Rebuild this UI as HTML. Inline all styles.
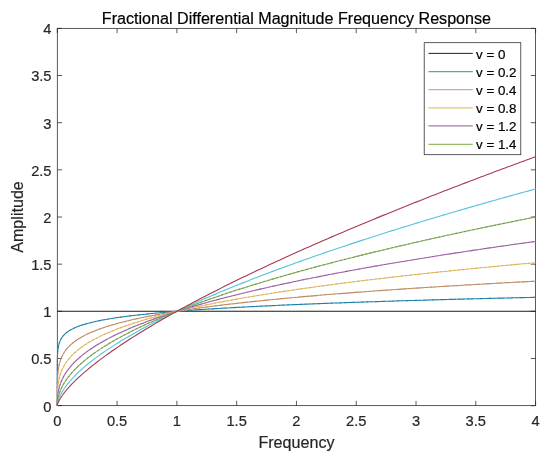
<!DOCTYPE html><html><head><meta charset="utf-8"><title>Fractional Differential Magnitude Frequency Response</title>
<style>html,body{margin:0;padding:0;background:#fff}svg{display:block}text{font-family:"Liberation Sans",Arial,sans-serif;fill:#262626;stroke:#262626;stroke-width:0.2px}</style></head><body>
<svg width="550" height="460" viewBox="0 0 550 460">
<rect width="550" height="460" fill="#fff"/>
<g stroke="#262626" stroke-width="0.75" fill="none">
<rect x="57.3" y="28.35" width="478.3" height="377.29999999999995"/>
<path d="M57.30,405.65v-4.8M57.30,28.35v4.8M57.3,405.65h4.8M535.6,405.65h-4.8M117.09,405.65v-4.8M117.09,28.35v4.8M57.3,358.49h4.8M535.6,358.49h-4.8M176.88,405.65v-4.8M176.88,28.35v4.8M57.3,311.32h4.8M535.6,311.32h-4.8M236.66,405.65v-4.8M236.66,28.35v4.8M57.3,264.16h4.8M535.6,264.16h-4.8M296.45,405.65v-4.8M296.45,28.35v4.8M57.3,217.00h4.8M535.6,217.00h-4.8M356.24,405.65v-4.8M356.24,28.35v4.8M57.3,169.84h4.8M535.6,169.84h-4.8M416.03,405.65v-4.8M416.03,28.35v4.8M57.3,122.68h4.8M535.6,122.68h-4.8M475.81,405.65v-4.8M475.81,28.35v4.8M57.3,75.51h4.8M535.6,75.51h-4.8M535.60,405.65v-4.8M535.60,28.35v4.8M57.3,28.35h4.8M535.6,28.35h-4.8"/>
</g>
<g fill="none" stroke-width="1.1" stroke-linejoin="round">
<path d="M57.30,311.32L535.60,311.32" stroke="#1a1a1a"/>
<path d="M57.30,405.65L57.30,389.24L57.30,385.45L57.30,382.84L57.30,380.78L57.30,379.06L57.30,377.56L57.30,376.23L57.30,375.03L57.30,373.93L57.30,372.91L57.30,371.96L57.31,371.07L57.31,370.23L57.31,369.43L57.31,368.68L57.31,367.95L57.31,367.26L57.32,366.60L57.32,365.96L57.32,365.34L57.33,364.75L57.33,364.17L57.34,363.62L57.34,363.08L57.35,362.55L57.35,362.04L57.36,361.55L57.37,361.06L57.37,360.59L57.38,360.13L57.39,359.68L57.40,359.24L57.41,358.81L57.42,358.39L57.43,357.97L57.44,357.57L57.45,357.17L57.47,356.78L57.48,356.40L57.49,356.03L57.51,355.66L57.52,355.29L57.54,354.94L57.56,354.59L57.58,354.24L57.60,353.90L57.62,353.57L57.64,353.24L57.66,352.91L57.68,352.59L57.70,352.27L57.73,351.96L57.75,351.65L57.78,351.35L57.80,351.05L57.83,350.76L57.86,350.46L57.89,350.17L57.92,349.89L57.96,349.61L57.99,349.33L58.02,349.05L58.06,348.78L58.10,348.51L58.13,348.25L58.17,347.98L58.21,347.72L58.25,347.46L58.30,347.21L58.34,346.95L58.39,346.70L58.43,346.46L58.48,346.21L58.53,345.97L58.58,345.73L58.63,345.49L58.69,345.25L58.74,345.02L58.80,344.79L58.85,344.56L58.91,344.33L58.97,344.10L59.04,343.88L59.10,343.65L59.16,343.43L59.23,343.22L59.30,343.00L59.37,342.78L59.44,342.57L59.51,342.36L59.59,342.15L59.66,341.94L59.74,341.73L59.82,341.53L59.90,341.32L59.98,341.12L60.07,340.92L60.16,340.72L60.24,340.52L60.33,340.33L60.43,340.13L60.52,339.94L60.62,339.74L60.71,339.55L60.81,339.36L60.91,339.17L61.02,338.99L61.12,338.80L61.23,338.61L61.34,338.43L61.45,338.25L61.56,338.07L61.68,337.89L61.80,337.71L61.92,337.53L62.04,337.35L62.16,337.18L62.29,337.00L62.41,336.83L62.54,336.65L62.68,336.48L62.81,336.31L62.95,336.14L63.09,335.97L63.23,335.80L63.37,335.64L63.52,335.47L63.66,335.30L63.81,335.14L63.97,334.98L64.12,334.81L64.28,334.65L64.44,334.49L64.60,334.33L64.77,334.17L64.93,334.01L65.10,333.86L65.28,333.70L65.45,333.54L65.63,333.39L65.81,333.23L65.99,333.08L66.17,332.93L66.36,332.77L66.55,332.62L66.74,332.47L66.94,332.32L67.14,332.17L67.34,332.02L67.54,331.88L67.75,331.73L67.96,331.58L68.17,331.44L68.38,331.29L68.60,331.15L68.82,331.00L69.04,330.86L69.27,330.72L69.50,330.58L69.73,330.43L69.96,330.29L70.20,330.15L70.44,330.01L70.69,329.87L70.93,329.74L71.18,329.60L71.43,329.46L71.69,329.33L71.95,329.19L72.21,329.05L72.47,328.92L72.74,328.78L73.01,328.65L73.29,328.52L73.56,328.38L73.84,328.25L74.13,328.12L74.41,327.99L74.70,327.86L75.00,327.73L75.29,327.60L75.59,327.47L75.90,327.34L76.20,327.21L76.51,327.09L76.83,326.96L77.14,326.83L77.46,326.71L77.79,326.58L78.11,326.45L78.45,326.33L78.78,326.21L79.12,326.08L79.46,325.96L79.80,325.84L80.15,325.71L80.50,325.59L80.86,325.47L81.22,325.35L84.26,324.38L87.31,323.50L90.36,322.70L93.41,321.97L96.46,321.29L99.51,320.65L102.56,320.06L105.61,319.50L108.66,318.97L111.71,318.47L114.76,317.99L117.81,317.54L120.86,317.10L123.91,316.69L126.96,316.29L130.01,315.90L133.06,315.53L136.11,315.18L139.16,314.83L142.21,314.50L145.26,314.18L148.31,313.87L151.35,313.56L154.40,313.27L157.45,312.98L160.50,312.70L163.55,312.43L166.60,312.17L169.65,311.91L172.70,311.66L175.75,311.41L178.80,311.17L181.85,310.94L184.90,310.71L187.95,310.49L191.00,310.27L194.05,310.05L197.10,309.84L200.15,309.63L203.20,309.43L206.25,309.23L209.30,309.03L212.35,308.84L215.40,308.65L218.45,308.47L221.49,308.29L224.54,308.11L227.59,307.93L230.64,307.76L233.69,307.59L236.74,307.42L239.79,307.25L242.84,307.09L245.89,306.93L248.94,306.77L251.99,306.61L255.04,306.46L258.09,306.31L261.14,306.16L264.19,306.01L267.24,305.86L270.29,305.72L273.34,305.58L276.39,305.44L279.44,305.30L282.49,305.16L285.54,305.03L288.59,304.89L291.63,304.76L294.68,304.63L297.73,304.50L300.78,304.37L303.83,304.25L306.88,304.12L309.93,304.00L312.98,303.88L316.03,303.76L319.08,303.64L322.13,303.52L325.18,303.40L328.23,303.29L331.28,303.17L334.33,303.06L337.38,302.95L340.43,302.83L343.48,302.72L346.53,302.61L349.58,302.51L352.63,302.40L355.68,302.29L358.73,302.19L361.77,302.08L364.82,301.98L367.87,301.88L370.92,301.78L373.97,301.68L377.02,301.58L380.07,301.48L383.12,301.38L386.17,301.28L389.22,301.19L392.27,301.09L395.32,301.00L398.37,300.90L401.42,300.81L404.47,300.72L407.52,300.62L410.57,300.53L413.62,300.44L416.67,300.35L419.72,300.26L422.77,300.18L425.82,300.09L428.87,300.00L431.91,299.91L434.96,299.83L438.01,299.74L441.06,299.66L444.11,299.58L447.16,299.49L450.21,299.41L453.26,299.33L456.31,299.25L459.36,299.16L462.41,299.08L465.46,299.00L468.51,298.92L471.56,298.85L474.61,298.77L477.66,298.69L480.71,298.61L483.76,298.53L486.81,298.46L489.86,298.38L492.91,298.31L495.96,298.23L499.01,298.16L502.05,298.08L505.10,298.01L508.15,297.94L511.20,297.86L514.25,297.79L517.30,297.72L520.35,297.65L523.40,297.58L526.45,297.51L529.50,297.44L532.55,297.37L535.60,297.30" stroke="#2388ad"/>
<path d="M57.30,405.65L57.30,389.24L57.30,385.45L57.30,382.84L57.30,380.78L57.30,379.06L57.30,377.56L57.30,376.23L57.30,375.03L57.30,373.93L57.30,372.91L57.30,371.96L57.31,371.07L57.31,370.23L57.31,369.43L57.31,368.68L57.31,367.95L57.31,367.26L57.32,366.60L57.32,365.96L57.32,365.34L57.33,364.75L57.33,364.17L57.34,363.62L57.34,363.08L57.35,362.55L57.35,362.04L57.36,361.55L57.37,361.06L57.37,360.59L57.38,360.13L57.39,359.68L57.40,359.24L57.41,358.81L57.42,358.39L57.43,357.97L57.44,357.57L57.45,357.17L57.47,356.78L57.48,356.40L57.49,356.03L57.51,355.66L57.52,355.29L57.54,354.94L57.56,354.59L57.58,354.24L57.60,353.90L57.62,353.57L57.64,353.24L57.66,352.91L57.68,352.59L57.70,352.27L57.73,351.96L57.75,351.65L57.78,351.35L57.80,351.05L57.83,350.76L57.86,350.46L57.89,350.17L57.92,349.89L57.96,349.61L57.99,349.33L58.02,349.05L58.06,348.78L58.10,348.51L58.13,348.25L58.17,347.98L58.21,347.72L58.25,347.46L58.30,347.21L58.34,346.95L58.39,346.70L58.43,346.46L58.48,346.21L58.53,345.97L58.58,345.73L58.63,345.49L58.69,345.25L58.74,345.02L58.80,344.79L58.85,344.56L58.91,344.33L58.97,344.10L59.04,343.88L59.10,343.65L59.16,343.43L59.23,343.22L59.30,343.00L59.37,342.78L59.44,342.57L59.51,342.36L59.59,342.15L59.66,341.94L59.74,341.73L59.82,341.53L59.90,341.32L59.98,341.12L60.07,340.92L60.16,340.72L60.24,340.52L60.33,340.33L60.43,340.13L60.52,339.94L60.62,339.74L60.71,339.55L60.81,339.36L60.91,339.17L61.02,338.99L61.12,338.80L61.23,338.61L61.34,338.43L61.45,338.25L61.56,338.07L61.68,337.89L61.80,337.71L61.92,337.53L62.04,337.35L62.16,337.18L62.29,337.00L62.41,336.83L62.54,336.65L62.68,336.48L62.81,336.31L62.95,336.14L63.09,335.97L63.23,335.80L63.37,335.64L63.52,335.47L63.66,335.30L63.81,335.14L63.97,334.98L64.12,334.81L64.28,334.65L64.44,334.49L64.60,334.33L64.77,334.17L64.93,334.01L65.10,333.86L65.28,333.70L65.45,333.54L65.63,333.39L65.81,333.23L65.99,333.08L66.17,332.93L66.36,332.77L66.55,332.62L66.74,332.47L66.94,332.32L67.14,332.17L67.34,332.02L67.54,331.88L67.75,331.73L67.96,331.58L68.17,331.44L68.38,331.29L68.60,331.15L68.82,331.00L69.04,330.86L69.27,330.72L69.50,330.58L69.73,330.43L69.96,330.29L70.20,330.15L70.44,330.01L70.69,329.87L70.93,329.74L71.18,329.60L71.43,329.46L71.69,329.33L71.95,329.19L72.21,329.05L72.47,328.92L72.74,328.78L73.01,328.65L73.29,328.52L73.56,328.38L73.84,328.25L74.13,328.12L74.41,327.99L74.70,327.86L75.00,327.73L75.29,327.60L75.59,327.47L75.90,327.34L76.20,327.21L76.51,327.09L76.83,326.96L77.14,326.83L77.46,326.71L77.79,326.58L78.11,326.45L78.45,326.33L78.78,326.21L79.12,326.08L79.46,325.96L79.80,325.84L80.15,325.71L80.50,325.59L80.86,325.47L81.22,325.35L84.26,324.38L87.31,323.50L90.36,322.70L93.41,321.97L96.46,321.29L99.51,320.65L102.56,320.06L105.61,319.50L108.66,318.97L111.71,318.47L114.76,317.99L117.81,317.54L120.86,317.10L123.91,316.69L126.96,316.29L130.01,315.90L133.06,315.53L136.11,315.18L139.16,314.83L142.21,314.50L145.26,314.18L148.31,313.87L151.35,313.56L154.40,313.27L157.45,312.98L160.50,312.70L163.55,312.43L166.60,312.17L169.65,311.91L172.70,311.66L175.75,311.41L178.80,311.17L181.85,310.94L184.90,310.71L187.95,310.49L191.00,310.27L194.05,310.05L197.10,309.84L200.15,309.63L203.20,309.43L206.25,309.23L209.30,309.03L212.35,308.84L215.40,308.65L218.45,308.47L221.49,308.29L224.54,308.11L227.59,307.93L230.64,307.76L233.69,307.59L236.74,307.42L239.79,307.25L242.84,307.09L245.89,306.93L248.94,306.77L251.99,306.61L255.04,306.46L258.09,306.31L261.14,306.16L264.19,306.01L267.24,305.86L270.29,305.72L273.34,305.58L276.39,305.44L279.44,305.30L282.49,305.16L285.54,305.03L288.59,304.89L291.63,304.76L294.68,304.63L297.73,304.50L300.78,304.37L303.83,304.25L306.88,304.12L309.93,304.00L312.98,303.88L316.03,303.76L319.08,303.64L322.13,303.52L325.18,303.40L328.23,303.29L331.28,303.17L334.33,303.06L337.38,302.95L340.43,302.83L343.48,302.72L346.53,302.61L349.58,302.51L352.63,302.40L355.68,302.29L358.73,302.19L361.77,302.08L364.82,301.98L367.87,301.88L370.92,301.78L373.97,301.68L377.02,301.58L380.07,301.48L383.12,301.38L386.17,301.28L389.22,301.19L392.27,301.09L395.32,301.00L398.37,300.90L401.42,300.81L404.47,300.72L407.52,300.62L410.57,300.53L413.62,300.44L416.67,300.35L419.72,300.26L422.77,300.18L425.82,300.09L428.87,300.00L431.91,299.91L434.96,299.83L438.01,299.74L441.06,299.66L444.11,299.58L447.16,299.49L450.21,299.41L453.26,299.33L456.31,299.25L459.36,299.16L462.41,299.08L465.46,299.00L468.51,298.92L471.56,298.85L474.61,298.77L477.66,298.69L480.71,298.61L483.76,298.53L486.81,298.46L489.86,298.38L492.91,298.31L495.96,298.23L499.01,298.16L502.05,298.08L505.10,298.01L508.15,297.94L511.20,297.86L514.25,297.79L517.30,297.72L520.35,297.65L523.40,297.58L526.45,297.51L529.50,297.44L532.55,297.37L535.60,297.30" stroke="#0a5c9c" stroke-opacity="0.35" stroke-dasharray="2 2.4"/>
<path d="M57.30,405.65L57.30,402.80L57.30,401.32L57.30,400.13L57.30,399.09L57.30,398.15L57.30,397.29L57.30,396.48L57.30,395.71L57.30,394.98L57.30,394.29L57.30,393.62L57.31,392.97L57.31,392.35L57.31,391.74L57.31,391.16L57.31,390.58L57.31,390.03L57.32,389.48L57.32,388.95L57.32,388.43L57.33,387.91L57.33,387.41L57.34,386.92L57.34,386.43L57.35,385.96L57.35,385.49L57.36,385.03L57.37,384.57L57.37,384.12L57.38,383.68L57.39,383.25L57.40,382.81L57.41,382.39L57.42,381.97L57.43,381.55L57.44,381.14L57.45,380.74L57.47,380.33L57.48,379.94L57.49,379.54L57.51,379.15L57.52,378.77L57.54,378.39L57.56,378.01L57.58,377.63L57.60,377.26L57.62,376.89L57.64,376.53L57.66,376.16L57.68,375.80L57.70,375.45L57.73,375.09L57.75,374.74L57.78,374.39L57.80,374.05L57.83,373.70L57.86,373.36L57.89,373.02L57.92,372.69L57.96,372.35L57.99,372.02L58.02,371.69L58.06,371.36L58.10,371.04L58.13,370.71L58.17,370.39L58.21,370.07L58.25,369.76L58.30,369.44L58.34,369.13L58.39,368.81L58.43,368.50L58.48,368.19L58.53,367.89L58.58,367.58L58.63,367.28L58.69,366.98L58.74,366.68L58.80,366.38L58.85,366.08L58.91,365.78L58.97,365.49L59.04,365.20L59.10,364.90L59.16,364.61L59.23,364.32L59.30,364.04L59.37,363.75L59.44,363.47L59.51,363.18L59.59,362.90L59.66,362.62L59.74,362.34L59.82,362.06L59.90,361.78L59.98,361.50L60.07,361.23L60.16,360.96L60.24,360.68L60.33,360.41L60.43,360.14L60.52,359.87L60.62,359.60L60.71,359.33L60.81,359.07L60.91,358.80L61.02,358.54L61.12,358.27L61.23,358.01L61.34,357.75L61.45,357.49L61.56,357.23L61.68,356.97L61.80,356.71L61.92,356.45L62.04,356.20L62.16,355.94L62.29,355.69L62.41,355.43L62.54,355.18L62.68,354.93L62.81,354.68L62.95,354.43L63.09,354.18L63.23,353.93L63.37,353.68L63.52,353.43L63.66,353.19L63.81,352.94L63.97,352.70L64.12,352.45L64.28,352.21L64.44,351.97L64.60,351.73L64.77,351.48L64.93,351.24L65.10,351.00L65.28,350.77L65.45,350.53L65.63,350.29L65.81,350.05L65.99,349.82L66.17,349.58L66.36,349.35L66.55,349.11L66.74,348.88L66.94,348.65L67.14,348.41L67.34,348.18L67.54,347.95L67.75,347.72L67.96,347.49L68.17,347.26L68.38,347.03L68.60,346.80L68.82,346.58L69.04,346.35L69.27,346.12L69.50,345.90L69.73,345.67L69.96,345.45L70.20,345.22L70.44,345.00L70.69,344.78L70.93,344.55L71.18,344.33L71.43,344.11L71.69,343.89L71.95,343.67L72.21,343.45L72.47,343.23L72.74,343.01L73.01,342.79L73.29,342.58L73.56,342.36L73.84,342.14L74.13,341.93L74.41,341.71L74.70,341.49L75.00,341.28L75.29,341.07L75.59,340.85L75.90,340.64L76.20,340.43L76.51,340.21L76.83,340.00L77.14,339.79L77.46,339.58L77.79,339.37L78.11,339.16L78.45,338.95L78.78,338.74L79.12,338.53L79.46,338.32L79.80,338.11L80.15,337.91L80.50,337.70L80.86,337.49L81.22,337.29L84.26,335.62L87.31,334.11L90.36,332.71L93.41,331.41L96.46,330.20L99.51,329.06L102.56,327.98L105.61,326.96L108.66,325.99L111.71,325.07L114.76,324.18L117.81,323.34L120.86,322.52L123.91,321.74L126.96,320.99L130.01,320.26L133.06,319.55L136.11,318.87L139.16,318.21L142.21,317.57L145.26,316.94L148.31,316.34L151.35,315.75L154.40,315.17L157.45,314.61L160.50,314.06L163.55,313.53L166.60,313.00L169.65,312.49L172.70,311.99L175.75,311.50L178.80,311.02L181.85,310.55L184.90,310.09L187.95,309.64L191.00,309.20L194.05,308.76L197.10,308.33L200.15,307.91L203.20,307.50L206.25,307.09L209.30,306.69L212.35,306.29L215.40,305.91L218.45,305.53L221.49,305.15L224.54,304.78L227.59,304.41L230.64,304.05L233.69,303.70L236.74,303.35L239.79,303.00L242.84,302.66L245.89,302.33L248.94,301.99L251.99,301.67L255.04,301.34L258.09,301.02L261.14,300.71L264.19,300.39L267.24,300.09L270.29,299.78L273.34,299.48L276.39,299.18L279.44,298.89L282.49,298.59L285.54,298.31L288.59,298.02L291.63,297.74L294.68,297.46L297.73,297.18L300.78,296.91L303.83,296.64L306.88,296.37L309.93,296.10L312.98,295.84L316.03,295.58L319.08,295.32L322.13,295.07L325.18,294.81L328.23,294.56L331.28,294.31L334.33,294.07L337.38,293.82L340.43,293.58L343.48,293.34L346.53,293.10L349.58,292.86L352.63,292.63L355.68,292.40L358.73,292.17L361.77,291.94L364.82,291.71L367.87,291.49L370.92,291.26L373.97,291.04L377.02,290.82L380.07,290.60L383.12,290.39L386.17,290.17L389.22,289.96L392.27,289.75L395.32,289.54L398.37,289.33L401.42,289.12L404.47,288.91L407.52,288.71L410.57,288.51L413.62,288.30L416.67,288.10L419.72,287.91L422.77,287.71L425.82,287.51L428.87,287.32L431.91,287.12L434.96,286.93L438.01,286.74L441.06,286.55L444.11,286.36L447.16,286.17L450.21,285.99L453.26,285.80L456.31,285.62L459.36,285.44L462.41,285.25L465.46,285.07L468.51,284.89L471.56,284.71L474.61,284.54L477.66,284.36L480.71,284.19L483.76,284.01L486.81,283.84L489.86,283.66L492.91,283.49L495.96,283.32L499.01,283.15L502.05,282.98L505.10,282.82L508.15,282.65L511.20,282.48L514.25,282.32L517.30,282.15L520.35,281.99L523.40,281.83L526.45,281.67L529.50,281.51L532.55,281.35L535.60,281.19" stroke="#cc8563"/>
<path d="M57.30,405.65L57.30,402.80L57.30,401.32L57.30,400.13L57.30,399.09L57.30,398.15L57.30,397.29L57.30,396.48L57.30,395.71L57.30,394.98L57.30,394.29L57.30,393.62L57.31,392.97L57.31,392.35L57.31,391.74L57.31,391.16L57.31,390.58L57.31,390.03L57.32,389.48L57.32,388.95L57.32,388.43L57.33,387.91L57.33,387.41L57.34,386.92L57.34,386.43L57.35,385.96L57.35,385.49L57.36,385.03L57.37,384.57L57.37,384.12L57.38,383.68L57.39,383.25L57.40,382.81L57.41,382.39L57.42,381.97L57.43,381.55L57.44,381.14L57.45,380.74L57.47,380.33L57.48,379.94L57.49,379.54L57.51,379.15L57.52,378.77L57.54,378.39L57.56,378.01L57.58,377.63L57.60,377.26L57.62,376.89L57.64,376.53L57.66,376.16L57.68,375.80L57.70,375.45L57.73,375.09L57.75,374.74L57.78,374.39L57.80,374.05L57.83,373.70L57.86,373.36L57.89,373.02L57.92,372.69L57.96,372.35L57.99,372.02L58.02,371.69L58.06,371.36L58.10,371.04L58.13,370.71L58.17,370.39L58.21,370.07L58.25,369.76L58.30,369.44L58.34,369.13L58.39,368.81L58.43,368.50L58.48,368.19L58.53,367.89L58.58,367.58L58.63,367.28L58.69,366.98L58.74,366.68L58.80,366.38L58.85,366.08L58.91,365.78L58.97,365.49L59.04,365.20L59.10,364.90L59.16,364.61L59.23,364.32L59.30,364.04L59.37,363.75L59.44,363.47L59.51,363.18L59.59,362.90L59.66,362.62L59.74,362.34L59.82,362.06L59.90,361.78L59.98,361.50L60.07,361.23L60.16,360.96L60.24,360.68L60.33,360.41L60.43,360.14L60.52,359.87L60.62,359.60L60.71,359.33L60.81,359.07L60.91,358.80L61.02,358.54L61.12,358.27L61.23,358.01L61.34,357.75L61.45,357.49L61.56,357.23L61.68,356.97L61.80,356.71L61.92,356.45L62.04,356.20L62.16,355.94L62.29,355.69L62.41,355.43L62.54,355.18L62.68,354.93L62.81,354.68L62.95,354.43L63.09,354.18L63.23,353.93L63.37,353.68L63.52,353.43L63.66,353.19L63.81,352.94L63.97,352.70L64.12,352.45L64.28,352.21L64.44,351.97L64.60,351.73L64.77,351.48L64.93,351.24L65.10,351.00L65.28,350.77L65.45,350.53L65.63,350.29L65.81,350.05L65.99,349.82L66.17,349.58L66.36,349.35L66.55,349.11L66.74,348.88L66.94,348.65L67.14,348.41L67.34,348.18L67.54,347.95L67.75,347.72L67.96,347.49L68.17,347.26L68.38,347.03L68.60,346.80L68.82,346.58L69.04,346.35L69.27,346.12L69.50,345.90L69.73,345.67L69.96,345.45L70.20,345.22L70.44,345.00L70.69,344.78L70.93,344.55L71.18,344.33L71.43,344.11L71.69,343.89L71.95,343.67L72.21,343.45L72.47,343.23L72.74,343.01L73.01,342.79L73.29,342.58L73.56,342.36L73.84,342.14L74.13,341.93L74.41,341.71L74.70,341.49L75.00,341.28L75.29,341.07L75.59,340.85L75.90,340.64L76.20,340.43L76.51,340.21L76.83,340.00L77.14,339.79L77.46,339.58L77.79,339.37L78.11,339.16L78.45,338.95L78.78,338.74L79.12,338.53L79.46,338.32L79.80,338.11L80.15,337.91L80.50,337.70L80.86,337.49L81.22,337.29L84.26,335.62L87.31,334.11L90.36,332.71L93.41,331.41L96.46,330.20L99.51,329.06L102.56,327.98L105.61,326.96L108.66,325.99L111.71,325.07L114.76,324.18L117.81,323.34L120.86,322.52L123.91,321.74L126.96,320.99L130.01,320.26L133.06,319.55L136.11,318.87L139.16,318.21L142.21,317.57L145.26,316.94L148.31,316.34L151.35,315.75L154.40,315.17L157.45,314.61L160.50,314.06L163.55,313.53L166.60,313.00L169.65,312.49L172.70,311.99L175.75,311.50L178.80,311.02L181.85,310.55L184.90,310.09L187.95,309.64L191.00,309.20L194.05,308.76L197.10,308.33L200.15,307.91L203.20,307.50L206.25,307.09L209.30,306.69L212.35,306.29L215.40,305.91L218.45,305.53L221.49,305.15L224.54,304.78L227.59,304.41L230.64,304.05L233.69,303.70L236.74,303.35L239.79,303.00L242.84,302.66L245.89,302.33L248.94,301.99L251.99,301.67L255.04,301.34L258.09,301.02L261.14,300.71L264.19,300.39L267.24,300.09L270.29,299.78L273.34,299.48L276.39,299.18L279.44,298.89L282.49,298.59L285.54,298.31L288.59,298.02L291.63,297.74L294.68,297.46L297.73,297.18L300.78,296.91L303.83,296.64L306.88,296.37L309.93,296.10L312.98,295.84L316.03,295.58L319.08,295.32L322.13,295.07L325.18,294.81L328.23,294.56L331.28,294.31L334.33,294.07L337.38,293.82L340.43,293.58L343.48,293.34L346.53,293.10L349.58,292.86L352.63,292.63L355.68,292.40L358.73,292.17L361.77,291.94L364.82,291.71L367.87,291.49L370.92,291.26L373.97,291.04L377.02,290.82L380.07,290.60L383.12,290.39L386.17,290.17L389.22,289.96L392.27,289.75L395.32,289.54L398.37,289.33L401.42,289.12L404.47,288.91L407.52,288.71L410.57,288.51L413.62,288.30L416.67,288.10L419.72,287.91L422.77,287.71L425.82,287.51L428.87,287.32L431.91,287.12L434.96,286.93L438.01,286.74L441.06,286.55L444.11,286.36L447.16,286.17L450.21,285.99L453.26,285.80L456.31,285.62L459.36,285.44L462.41,285.25L465.46,285.07L468.51,284.89L471.56,284.71L474.61,284.54L477.66,284.36L480.71,284.19L483.76,284.01L486.81,283.84L489.86,283.66L492.91,283.49L495.96,283.32L499.01,283.15L502.05,282.98L505.10,282.82L508.15,282.65L511.20,282.48L514.25,282.32L517.30,282.15L520.35,281.99L523.40,281.83L526.45,281.67L529.50,281.51L532.55,281.35L535.60,281.19" stroke="#98a070" stroke-opacity="0.5" stroke-dasharray="2 2.4"/>
<path d="M57.30,405.65L57.30,405.15L57.30,404.72L57.30,404.32L57.30,403.92L57.30,403.54L57.30,403.16L57.30,402.79L57.30,402.42L57.30,402.06L57.30,401.71L57.30,401.35L57.31,401.00L57.31,400.66L57.31,400.31L57.31,399.97L57.31,399.63L57.31,399.29L57.32,398.96L57.32,398.62L57.32,398.29L57.33,397.96L57.33,397.63L57.34,397.30L57.34,396.98L57.35,396.65L57.35,396.33L57.36,396.01L57.37,395.69L57.37,395.37L57.38,395.05L57.39,394.73L57.40,394.41L57.41,394.10L57.42,393.78L57.43,393.47L57.44,393.16L57.45,392.85L57.47,392.53L57.48,392.22L57.49,391.92L57.51,391.61L57.52,391.30L57.54,390.99L57.56,390.69L57.58,390.38L57.60,390.07L57.62,389.77L57.64,389.47L57.66,389.16L57.68,388.86L57.70,388.56L57.73,388.26L57.75,387.96L57.78,387.66L57.80,387.36L57.83,387.06L57.86,386.76L57.89,386.46L57.92,386.16L57.96,385.87L57.99,385.57L58.02,385.27L58.06,384.98L58.10,384.68L58.13,384.39L58.17,384.09L58.21,383.80L58.25,383.51L58.30,383.21L58.34,382.92L58.39,382.63L58.43,382.34L58.48,382.05L58.53,381.76L58.58,381.47L58.63,381.18L58.69,380.89L58.74,380.60L58.80,380.31L58.85,380.02L58.91,379.73L58.97,379.44L59.04,379.16L59.10,378.87L59.16,378.58L59.23,378.30L59.30,378.01L59.37,377.72L59.44,377.44L59.51,377.15L59.59,376.87L59.66,376.58L59.74,376.30L59.82,376.02L59.90,375.73L59.98,375.45L60.07,375.17L60.16,374.88L60.24,374.60L60.33,374.32L60.43,374.04L60.52,373.76L60.62,373.47L60.71,373.19L60.81,372.91L60.91,372.63L61.02,372.35L61.12,372.07L61.23,371.79L61.34,371.51L61.45,371.23L61.56,370.96L61.68,370.68L61.80,370.40L61.92,370.12L62.04,369.84L62.16,369.56L62.29,369.29L62.41,369.01L62.54,368.73L62.68,368.46L62.81,368.18L62.95,367.90L63.09,367.63L63.23,367.35L63.37,367.08L63.52,366.80L63.66,366.52L63.81,366.25L63.97,365.97L64.12,365.70L64.28,365.43L64.44,365.15L64.60,364.88L64.77,364.60L64.93,364.33L65.10,364.06L65.28,363.78L65.45,363.51L65.63,363.24L65.81,362.97L65.99,362.69L66.17,362.42L66.36,362.15L66.55,361.88L66.74,361.61L66.94,361.33L67.14,361.06L67.34,360.79L67.54,360.52L67.75,360.25L67.96,359.98L68.17,359.71L68.38,359.44L68.60,359.17L68.82,358.90L69.04,358.63L69.27,358.36L69.50,358.09L69.73,357.82L69.96,357.55L70.20,357.28L70.44,357.02L70.69,356.75L70.93,356.48L71.18,356.21L71.43,355.94L71.69,355.68L71.95,355.41L72.21,355.14L72.47,354.87L72.74,354.61L73.01,354.34L73.29,354.07L73.56,353.81L73.84,353.54L74.13,353.27L74.41,353.01L74.70,352.74L75.00,352.47L75.29,352.21L75.59,351.94L75.90,351.68L76.20,351.41L76.51,351.15L76.83,350.88L77.14,350.62L77.46,350.35L77.79,350.09L78.11,349.82L78.45,349.56L78.78,349.29L79.12,349.03L79.46,348.77L79.80,348.50L80.15,348.24L80.50,347.97L80.86,347.71L81.22,347.45L84.26,345.31L87.31,343.34L90.36,341.51L93.41,339.79L96.46,338.17L99.51,336.63L102.56,335.17L105.61,333.78L108.66,332.45L111.71,331.17L114.76,329.94L117.81,328.76L120.86,327.62L123.91,326.51L126.96,325.44L130.01,324.40L133.06,323.39L136.11,322.42L139.16,321.46L142.21,320.53L145.26,319.63L148.31,318.74L151.35,317.88L154.40,317.04L157.45,316.21L160.50,315.40L163.55,314.61L166.60,313.83L169.65,313.07L172.70,312.32L175.75,311.59L178.80,310.87L181.85,310.16L184.90,309.47L187.95,308.78L191.00,308.11L194.05,307.45L197.10,306.80L200.15,306.16L203.20,305.52L206.25,304.90L209.30,304.29L212.35,303.68L215.40,303.08L218.45,302.49L221.49,301.91L224.54,301.34L227.59,300.77L230.64,300.21L233.69,299.66L236.74,299.11L239.79,298.57L242.84,298.04L245.89,297.51L248.94,296.99L251.99,296.47L255.04,295.96L258.09,295.46L261.14,294.96L264.19,294.46L267.24,293.97L270.29,293.49L273.34,293.01L276.39,292.54L279.44,292.07L282.49,291.60L285.54,291.14L288.59,290.68L291.63,290.23L294.68,289.78L297.73,289.34L300.78,288.89L303.83,288.46L306.88,288.03L309.93,287.60L312.98,287.17L316.03,286.75L319.08,286.33L322.13,285.91L325.18,285.50L328.23,285.09L331.28,284.69L334.33,284.29L337.38,283.89L340.43,283.49L343.48,283.10L346.53,282.71L349.58,282.32L352.63,281.93L355.68,281.55L358.73,281.17L361.77,280.80L364.82,280.42L367.87,280.05L370.92,279.68L373.97,279.32L377.02,278.95L380.07,278.59L383.12,278.23L386.17,277.88L389.22,277.52L392.27,277.17L395.32,276.82L398.37,276.47L401.42,276.13L404.47,275.78L407.52,275.44L410.57,275.10L413.62,274.77L416.67,274.43L419.72,274.10L422.77,273.77L425.82,273.44L428.87,273.11L431.91,272.79L434.96,272.46L438.01,272.14L441.06,271.82L444.11,271.50L447.16,271.19L450.21,270.87L453.26,270.56L456.31,270.25L459.36,269.94L462.41,269.63L465.46,269.32L468.51,269.02L471.56,268.71L474.61,268.41L477.66,268.11L480.71,267.81L483.76,267.52L486.81,267.22L489.86,266.93L492.91,266.63L495.96,266.34L499.01,266.05L502.05,265.77L505.10,265.48L508.15,265.19L511.20,264.91L514.25,264.62L517.30,264.34L520.35,264.06L523.40,263.78L526.45,263.51L529.50,263.23L532.55,262.95L535.60,262.68" stroke="#e4c45c"/>
<path d="M57.30,405.65L57.30,405.15L57.30,404.72L57.30,404.32L57.30,403.92L57.30,403.54L57.30,403.16L57.30,402.79L57.30,402.42L57.30,402.06L57.30,401.71L57.30,401.35L57.31,401.00L57.31,400.66L57.31,400.31L57.31,399.97L57.31,399.63L57.31,399.29L57.32,398.96L57.32,398.62L57.32,398.29L57.33,397.96L57.33,397.63L57.34,397.30L57.34,396.98L57.35,396.65L57.35,396.33L57.36,396.01L57.37,395.69L57.37,395.37L57.38,395.05L57.39,394.73L57.40,394.41L57.41,394.10L57.42,393.78L57.43,393.47L57.44,393.16L57.45,392.85L57.47,392.53L57.48,392.22L57.49,391.92L57.51,391.61L57.52,391.30L57.54,390.99L57.56,390.69L57.58,390.38L57.60,390.07L57.62,389.77L57.64,389.47L57.66,389.16L57.68,388.86L57.70,388.56L57.73,388.26L57.75,387.96L57.78,387.66L57.80,387.36L57.83,387.06L57.86,386.76L57.89,386.46L57.92,386.16L57.96,385.87L57.99,385.57L58.02,385.27L58.06,384.98L58.10,384.68L58.13,384.39L58.17,384.09L58.21,383.80L58.25,383.51L58.30,383.21L58.34,382.92L58.39,382.63L58.43,382.34L58.48,382.05L58.53,381.76L58.58,381.47L58.63,381.18L58.69,380.89L58.74,380.60L58.80,380.31L58.85,380.02L58.91,379.73L58.97,379.44L59.04,379.16L59.10,378.87L59.16,378.58L59.23,378.30L59.30,378.01L59.37,377.72L59.44,377.44L59.51,377.15L59.59,376.87L59.66,376.58L59.74,376.30L59.82,376.02L59.90,375.73L59.98,375.45L60.07,375.17L60.16,374.88L60.24,374.60L60.33,374.32L60.43,374.04L60.52,373.76L60.62,373.47L60.71,373.19L60.81,372.91L60.91,372.63L61.02,372.35L61.12,372.07L61.23,371.79L61.34,371.51L61.45,371.23L61.56,370.96L61.68,370.68L61.80,370.40L61.92,370.12L62.04,369.84L62.16,369.56L62.29,369.29L62.41,369.01L62.54,368.73L62.68,368.46L62.81,368.18L62.95,367.90L63.09,367.63L63.23,367.35L63.37,367.08L63.52,366.80L63.66,366.52L63.81,366.25L63.97,365.97L64.12,365.70L64.28,365.43L64.44,365.15L64.60,364.88L64.77,364.60L64.93,364.33L65.10,364.06L65.28,363.78L65.45,363.51L65.63,363.24L65.81,362.97L65.99,362.69L66.17,362.42L66.36,362.15L66.55,361.88L66.74,361.61L66.94,361.33L67.14,361.06L67.34,360.79L67.54,360.52L67.75,360.25L67.96,359.98L68.17,359.71L68.38,359.44L68.60,359.17L68.82,358.90L69.04,358.63L69.27,358.36L69.50,358.09L69.73,357.82L69.96,357.55L70.20,357.28L70.44,357.02L70.69,356.75L70.93,356.48L71.18,356.21L71.43,355.94L71.69,355.68L71.95,355.41L72.21,355.14L72.47,354.87L72.74,354.61L73.01,354.34L73.29,354.07L73.56,353.81L73.84,353.54L74.13,353.27L74.41,353.01L74.70,352.74L75.00,352.47L75.29,352.21L75.59,351.94L75.90,351.68L76.20,351.41L76.51,351.15L76.83,350.88L77.14,350.62L77.46,350.35L77.79,350.09L78.11,349.82L78.45,349.56L78.78,349.29L79.12,349.03L79.46,348.77L79.80,348.50L80.15,348.24L80.50,347.97L80.86,347.71L81.22,347.45L84.26,345.31L87.31,343.34L90.36,341.51L93.41,339.79L96.46,338.17L99.51,336.63L102.56,335.17L105.61,333.78L108.66,332.45L111.71,331.17L114.76,329.94L117.81,328.76L120.86,327.62L123.91,326.51L126.96,325.44L130.01,324.40L133.06,323.39L136.11,322.42L139.16,321.46L142.21,320.53L145.26,319.63L148.31,318.74L151.35,317.88L154.40,317.04L157.45,316.21L160.50,315.40L163.55,314.61L166.60,313.83L169.65,313.07L172.70,312.32L175.75,311.59L178.80,310.87L181.85,310.16L184.90,309.47L187.95,308.78L191.00,308.11L194.05,307.45L197.10,306.80L200.15,306.16L203.20,305.52L206.25,304.90L209.30,304.29L212.35,303.68L215.40,303.08L218.45,302.49L221.49,301.91L224.54,301.34L227.59,300.77L230.64,300.21L233.69,299.66L236.74,299.11L239.79,298.57L242.84,298.04L245.89,297.51L248.94,296.99L251.99,296.47L255.04,295.96L258.09,295.46L261.14,294.96L264.19,294.46L267.24,293.97L270.29,293.49L273.34,293.01L276.39,292.54L279.44,292.07L282.49,291.60L285.54,291.14L288.59,290.68L291.63,290.23L294.68,289.78L297.73,289.34L300.78,288.89L303.83,288.46L306.88,288.03L309.93,287.60L312.98,287.17L316.03,286.75L319.08,286.33L322.13,285.91L325.18,285.50L328.23,285.09L331.28,284.69L334.33,284.29L337.38,283.89L340.43,283.49L343.48,283.10L346.53,282.71L349.58,282.32L352.63,281.93L355.68,281.55L358.73,281.17L361.77,280.80L364.82,280.42L367.87,280.05L370.92,279.68L373.97,279.32L377.02,278.95L380.07,278.59L383.12,278.23L386.17,277.88L389.22,277.52L392.27,277.17L395.32,276.82L398.37,276.47L401.42,276.13L404.47,275.78L407.52,275.44L410.57,275.10L413.62,274.77L416.67,274.43L419.72,274.10L422.77,273.77L425.82,273.44L428.87,273.11L431.91,272.79L434.96,272.46L438.01,272.14L441.06,271.82L444.11,271.50L447.16,271.19L450.21,270.87L453.26,270.56L456.31,270.25L459.36,269.94L462.41,269.63L465.46,269.32L468.51,269.02L471.56,268.71L474.61,268.41L477.66,268.11L480.71,267.81L483.76,267.52L486.81,267.22L489.86,266.93L492.91,266.63L495.96,266.34L499.01,266.05L502.05,265.77L505.10,265.48L508.15,265.19L511.20,264.91L514.25,264.62L517.30,264.34L520.35,264.06L523.40,263.78L526.45,263.51L529.50,263.23L532.55,262.95L535.60,262.68" stroke="#c48a7c" stroke-opacity="0.45" stroke-dasharray="2 2.4"/>
<path d="M57.30,405.65L57.30,405.56L57.30,405.45L57.30,405.33L57.30,405.19L57.30,405.05L57.30,404.91L57.30,404.76L57.30,404.60L57.30,404.44L57.30,404.28L57.30,404.12L57.31,403.95L57.31,403.77L57.31,403.60L57.31,403.42L57.31,403.24L57.31,403.06L57.32,402.88L57.32,402.69L57.32,402.50L57.33,402.32L57.33,402.12L57.34,401.93L57.34,401.74L57.35,401.54L57.35,401.34L57.36,401.14L57.37,400.94L57.37,400.74L57.38,400.53L57.39,400.33L57.40,400.12L57.41,399.91L57.42,399.70L57.43,399.49L57.44,399.28L57.45,399.07L57.47,398.86L57.48,398.64L57.49,398.42L57.51,398.21L57.52,397.99L57.54,397.77L57.56,397.55L57.58,397.33L57.60,397.10L57.62,396.88L57.64,396.66L57.66,396.43L57.68,396.21L57.70,395.98L57.73,395.75L57.75,395.52L57.78,395.29L57.80,395.06L57.83,394.83L57.86,394.60L57.89,394.36L57.92,394.13L57.96,393.90L57.99,393.66L58.02,393.42L58.06,393.19L58.10,392.95L58.13,392.71L58.17,392.47L58.21,392.23L58.25,391.99L58.30,391.75L58.34,391.51L58.39,391.26L58.43,391.02L58.48,390.78L58.53,390.53L58.58,390.29L58.63,390.04L58.69,389.79L58.74,389.55L58.80,389.30L58.85,389.05L58.91,388.80L58.97,388.55L59.04,388.30L59.10,388.05L59.16,387.80L59.23,387.54L59.30,387.29L59.37,387.04L59.44,386.78L59.51,386.53L59.59,386.27L59.66,386.02L59.74,385.76L59.82,385.50L59.90,385.25L59.98,384.99L60.07,384.73L60.16,384.47L60.24,384.21L60.33,383.95L60.43,383.69L60.52,383.43L60.62,383.17L60.71,382.91L60.81,382.64L60.91,382.38L61.02,382.12L61.12,381.85L61.23,381.59L61.34,381.32L61.45,381.06L61.56,380.79L61.68,380.52L61.80,380.26L61.92,379.99L62.04,379.72L62.16,379.45L62.29,379.18L62.41,378.92L62.54,378.65L62.68,378.38L62.81,378.10L62.95,377.83L63.09,377.56L63.23,377.29L63.37,377.02L63.52,376.74L63.66,376.47L63.81,376.20L63.97,375.92L64.12,375.65L64.28,375.37L64.44,375.10L64.60,374.82L64.77,374.55L64.93,374.27L65.10,373.99L65.28,373.71L65.45,373.44L65.63,373.16L65.81,372.88L65.99,372.60L66.17,372.32L66.36,372.04L66.55,371.76L66.74,371.48L66.94,371.20L67.14,370.92L67.34,370.64L67.54,370.35L67.75,370.07L67.96,369.79L68.17,369.51L68.38,369.22L68.60,368.94L68.82,368.65L69.04,368.37L69.27,368.08L69.50,367.80L69.73,367.51L69.96,367.23L70.20,366.94L70.44,366.65L70.69,366.36L70.93,366.08L71.18,365.79L71.43,365.50L71.69,365.21L71.95,364.92L72.21,364.63L72.47,364.34L72.74,364.05L73.01,363.76L73.29,363.47L73.56,363.18L73.84,362.89L74.13,362.60L74.41,362.31L74.70,362.01L75.00,361.72L75.29,361.43L75.59,361.14L75.90,360.84L76.20,360.55L76.51,360.25L76.83,359.96L77.14,359.66L77.46,359.37L77.79,359.07L78.11,358.78L78.45,358.48L78.78,358.18L79.12,357.89L79.46,357.59L79.80,357.29L80.15,357.00L80.50,356.70L80.86,356.40L81.22,356.10L84.26,353.66L87.31,351.39L90.36,349.25L93.41,347.22L96.46,345.29L99.51,343.46L102.56,341.70L105.61,340.01L108.66,338.38L111.71,336.81L114.76,335.29L117.81,333.82L120.86,332.39L123.91,331.01L126.96,329.66L130.01,328.35L133.06,327.06L136.11,325.81L139.16,324.59L142.21,323.40L145.26,322.23L148.31,321.08L151.35,319.96L154.40,318.86L157.45,317.78L160.50,316.72L163.55,315.68L166.60,314.65L169.65,313.65L172.70,312.66L175.75,311.68L178.80,310.72L181.85,309.77L184.90,308.84L187.95,307.92L191.00,307.02L194.05,306.12L197.10,305.24L200.15,304.37L203.20,303.51L206.25,302.66L209.30,301.82L212.35,301.00L215.40,300.18L218.45,299.37L221.49,298.57L224.54,297.78L227.59,296.99L230.64,296.22L233.69,295.45L236.74,294.70L239.79,293.95L242.84,293.20L245.89,292.47L248.94,291.74L251.99,291.02L255.04,290.30L258.09,289.59L261.14,288.89L264.19,288.20L267.24,287.51L270.29,286.82L273.34,286.15L276.39,285.47L279.44,284.81L282.49,284.15L285.54,283.49L288.59,282.84L291.63,282.20L294.68,281.56L297.73,280.92L300.78,280.29L303.83,279.66L306.88,279.04L309.93,278.43L312.98,277.81L316.03,277.21L319.08,276.60L322.13,276.00L325.18,275.41L328.23,274.82L331.28,274.23L334.33,273.65L337.38,273.07L340.43,272.49L343.48,271.92L346.53,271.35L349.58,270.79L352.63,270.23L355.68,269.67L358.73,269.12L361.77,268.56L364.82,268.02L367.87,267.47L370.92,266.93L373.97,266.39L377.02,265.86L380.07,265.33L383.12,264.80L386.17,264.27L389.22,263.75L392.27,263.23L395.32,262.71L398.37,262.20L401.42,261.69L404.47,261.18L407.52,260.67L410.57,260.17L413.62,259.67L416.67,259.17L419.72,258.67L422.77,258.18L425.82,257.69L428.87,257.20L431.91,256.71L434.96,256.23L438.01,255.75L441.06,255.27L444.11,254.79L447.16,254.32L450.21,253.84L453.26,253.37L456.31,252.91L459.36,252.44L462.41,251.98L465.46,251.51L468.51,251.05L471.56,250.60L474.61,250.14L477.66,249.69L480.71,249.24L483.76,248.79L486.81,248.34L489.86,247.89L492.91,247.45L495.96,247.01L499.01,246.57L502.05,246.13L505.10,245.69L508.15,245.26L511.20,244.82L514.25,244.39L517.30,243.96L520.35,243.54L523.40,243.11L526.45,242.68L529.50,242.26L532.55,241.84L535.60,241.42" stroke="#8f5298"/>
<path d="M57.30,405.65L57.30,405.56L57.30,405.45L57.30,405.33L57.30,405.19L57.30,405.05L57.30,404.91L57.30,404.76L57.30,404.60L57.30,404.44L57.30,404.28L57.30,404.12L57.31,403.95L57.31,403.77L57.31,403.60L57.31,403.42L57.31,403.24L57.31,403.06L57.32,402.88L57.32,402.69L57.32,402.50L57.33,402.32L57.33,402.12L57.34,401.93L57.34,401.74L57.35,401.54L57.35,401.34L57.36,401.14L57.37,400.94L57.37,400.74L57.38,400.53L57.39,400.33L57.40,400.12L57.41,399.91L57.42,399.70L57.43,399.49L57.44,399.28L57.45,399.07L57.47,398.86L57.48,398.64L57.49,398.42L57.51,398.21L57.52,397.99L57.54,397.77L57.56,397.55L57.58,397.33L57.60,397.10L57.62,396.88L57.64,396.66L57.66,396.43L57.68,396.21L57.70,395.98L57.73,395.75L57.75,395.52L57.78,395.29L57.80,395.06L57.83,394.83L57.86,394.60L57.89,394.36L57.92,394.13L57.96,393.90L57.99,393.66L58.02,393.42L58.06,393.19L58.10,392.95L58.13,392.71L58.17,392.47L58.21,392.23L58.25,391.99L58.30,391.75L58.34,391.51L58.39,391.26L58.43,391.02L58.48,390.78L58.53,390.53L58.58,390.29L58.63,390.04L58.69,389.79L58.74,389.55L58.80,389.30L58.85,389.05L58.91,388.80L58.97,388.55L59.04,388.30L59.10,388.05L59.16,387.80L59.23,387.54L59.30,387.29L59.37,387.04L59.44,386.78L59.51,386.53L59.59,386.27L59.66,386.02L59.74,385.76L59.82,385.50L59.90,385.25L59.98,384.99L60.07,384.73L60.16,384.47L60.24,384.21L60.33,383.95L60.43,383.69L60.52,383.43L60.62,383.17L60.71,382.91L60.81,382.64L60.91,382.38L61.02,382.12L61.12,381.85L61.23,381.59L61.34,381.32L61.45,381.06L61.56,380.79L61.68,380.52L61.80,380.26L61.92,379.99L62.04,379.72L62.16,379.45L62.29,379.18L62.41,378.92L62.54,378.65L62.68,378.38L62.81,378.10L62.95,377.83L63.09,377.56L63.23,377.29L63.37,377.02L63.52,376.74L63.66,376.47L63.81,376.20L63.97,375.92L64.12,375.65L64.28,375.37L64.44,375.10L64.60,374.82L64.77,374.55L64.93,374.27L65.10,373.99L65.28,373.71L65.45,373.44L65.63,373.16L65.81,372.88L65.99,372.60L66.17,372.32L66.36,372.04L66.55,371.76L66.74,371.48L66.94,371.20L67.14,370.92L67.34,370.64L67.54,370.35L67.75,370.07L67.96,369.79L68.17,369.51L68.38,369.22L68.60,368.94L68.82,368.65L69.04,368.37L69.27,368.08L69.50,367.80L69.73,367.51L69.96,367.23L70.20,366.94L70.44,366.65L70.69,366.36L70.93,366.08L71.18,365.79L71.43,365.50L71.69,365.21L71.95,364.92L72.21,364.63L72.47,364.34L72.74,364.05L73.01,363.76L73.29,363.47L73.56,363.18L73.84,362.89L74.13,362.60L74.41,362.31L74.70,362.01L75.00,361.72L75.29,361.43L75.59,361.14L75.90,360.84L76.20,360.55L76.51,360.25L76.83,359.96L77.14,359.66L77.46,359.37L77.79,359.07L78.11,358.78L78.45,358.48L78.78,358.18L79.12,357.89L79.46,357.59L79.80,357.29L80.15,357.00L80.50,356.70L80.86,356.40L81.22,356.10L84.26,353.66L87.31,351.39L90.36,349.25L93.41,347.22L96.46,345.29L99.51,343.46L102.56,341.70L105.61,340.01L108.66,338.38L111.71,336.81L114.76,335.29L117.81,333.82L120.86,332.39L123.91,331.01L126.96,329.66L130.01,328.35L133.06,327.06L136.11,325.81L139.16,324.59L142.21,323.40L145.26,322.23L148.31,321.08L151.35,319.96L154.40,318.86L157.45,317.78L160.50,316.72L163.55,315.68L166.60,314.65L169.65,313.65L172.70,312.66L175.75,311.68L178.80,310.72L181.85,309.77L184.90,308.84L187.95,307.92L191.00,307.02L194.05,306.12L197.10,305.24L200.15,304.37L203.20,303.51L206.25,302.66L209.30,301.82L212.35,301.00L215.40,300.18L218.45,299.37L221.49,298.57L224.54,297.78L227.59,296.99L230.64,296.22L233.69,295.45L236.74,294.70L239.79,293.95L242.84,293.20L245.89,292.47L248.94,291.74L251.99,291.02L255.04,290.30L258.09,289.59L261.14,288.89L264.19,288.20L267.24,287.51L270.29,286.82L273.34,286.15L276.39,285.47L279.44,284.81L282.49,284.15L285.54,283.49L288.59,282.84L291.63,282.20L294.68,281.56L297.73,280.92L300.78,280.29L303.83,279.66L306.88,279.04L309.93,278.43L312.98,277.81L316.03,277.21L319.08,276.60L322.13,276.00L325.18,275.41L328.23,274.82L331.28,274.23L334.33,273.65L337.38,273.07L340.43,272.49L343.48,271.92L346.53,271.35L349.58,270.79L352.63,270.23L355.68,269.67L358.73,269.12L361.77,268.56L364.82,268.02L367.87,267.47L370.92,266.93L373.97,266.39L377.02,265.86L380.07,265.33L383.12,264.80L386.17,264.27L389.22,263.75L392.27,263.23L395.32,262.71L398.37,262.20L401.42,261.69L404.47,261.18L407.52,260.67L410.57,260.17L413.62,259.67L416.67,259.17L419.72,258.67L422.77,258.18L425.82,257.69L428.87,257.20L431.91,256.71L434.96,256.23L438.01,255.75L441.06,255.27L444.11,254.79L447.16,254.32L450.21,253.84L453.26,253.37L456.31,252.91L459.36,252.44L462.41,251.98L465.46,251.51L468.51,251.05L471.56,250.60L474.61,250.14L477.66,249.69L480.71,249.24L483.76,248.79L486.81,248.34L489.86,247.89L492.91,247.45L495.96,247.01L499.01,246.57L502.05,246.13L505.10,245.69L508.15,245.26L511.20,244.82L514.25,244.39L517.30,243.96L520.35,243.54L523.40,243.11L526.45,242.68L529.50,242.26L532.55,241.84L535.60,241.42" stroke="#d4a8d6" stroke-opacity="0.45" stroke-dasharray="2 2.4"/>
<path d="M57.30,405.65L57.30,405.63L57.30,405.61L57.30,405.57L57.30,405.53L57.30,405.48L57.30,405.43L57.30,405.37L57.30,405.31L57.30,405.24L57.30,405.17L57.30,405.10L57.31,405.03L57.31,404.95L57.31,404.86L57.31,404.78L57.31,404.69L57.31,404.60L57.32,404.50L57.32,404.41L57.32,404.31L57.33,404.20L57.33,404.10L57.34,403.99L57.34,403.88L57.35,403.77L57.35,403.66L57.36,403.54L57.37,403.42L57.37,403.30L57.38,403.18L57.39,403.06L57.40,402.93L57.41,402.80L57.42,402.67L57.43,402.54L57.44,402.40L57.45,402.27L57.47,402.13L57.48,401.99L57.49,401.85L57.51,401.71L57.52,401.56L57.54,401.41L57.56,401.26L57.58,401.11L57.60,400.96L57.62,400.81L57.64,400.65L57.66,400.50L57.68,400.34L57.70,400.18L57.73,400.02L57.75,399.85L57.78,399.69L57.80,399.52L57.83,399.35L57.86,399.18L57.89,399.01L57.92,398.84L57.96,398.67L57.99,398.49L58.02,398.31L58.06,398.14L58.10,397.96L58.13,397.78L58.17,397.59L58.21,397.41L58.25,397.22L58.30,397.04L58.34,396.85L58.39,396.66L58.43,396.47L58.48,396.28L58.53,396.08L58.58,395.89L58.63,395.69L58.69,395.50L58.74,395.30L58.80,395.10L58.85,394.90L58.91,394.70L58.97,394.49L59.04,394.29L59.10,394.08L59.16,393.87L59.23,393.67L59.30,393.46L59.37,393.25L59.44,393.03L59.51,392.82L59.59,392.61L59.66,392.39L59.74,392.17L59.82,391.96L59.90,391.74L59.98,391.52L60.07,391.29L60.16,391.07L60.24,390.85L60.33,390.62L60.43,390.40L60.52,390.17L60.62,389.94L60.71,389.71L60.81,389.48L60.91,389.25L61.02,389.02L61.12,388.78L61.23,388.55L61.34,388.31L61.45,388.08L61.56,387.84L61.68,387.60L61.80,387.36L61.92,387.12L62.04,386.88L62.16,386.63L62.29,386.39L62.41,386.14L62.54,385.90L62.68,385.65L62.81,385.40L62.95,385.15L63.09,384.90L63.23,384.65L63.37,384.40L63.52,384.14L63.66,383.89L63.81,383.63L63.97,383.38L64.12,383.12L64.28,382.86L64.44,382.60L64.60,382.34L64.77,382.08L64.93,381.82L65.10,381.55L65.28,381.29L65.45,381.02L65.63,380.76L65.81,380.49L65.99,380.22L66.17,379.95L66.36,379.68L66.55,379.41L66.74,379.14L66.94,378.87L67.14,378.59L67.34,378.32L67.54,378.04L67.75,377.77L67.96,377.49L68.17,377.21L68.38,376.93L68.60,376.65L68.82,376.37L69.04,376.09L69.27,375.81L69.50,375.52L69.73,375.24L69.96,374.95L70.20,374.67L70.44,374.38L70.69,374.09L70.93,373.80L71.18,373.51L71.43,373.22L71.69,372.93L71.95,372.64L72.21,372.34L72.47,372.05L72.74,371.75L73.01,371.46L73.29,371.16L73.56,370.86L73.84,370.56L74.13,370.26L74.41,369.96L74.70,369.66L75.00,369.36L75.29,369.06L75.59,368.75L75.90,368.45L76.20,368.15L76.51,367.84L76.83,367.53L77.14,367.22L77.46,366.92L77.79,366.61L78.11,366.30L78.45,365.98L78.78,365.67L79.12,365.36L79.46,365.05L79.80,364.73L80.15,364.42L80.50,364.10L80.86,363.78L81.22,363.47L84.26,360.86L87.31,358.39L90.36,356.05L93.41,353.81L96.46,351.67L99.51,349.61L102.56,347.62L105.61,345.69L108.66,343.83L111.71,342.02L114.76,340.26L117.81,338.55L120.86,336.88L123.91,335.25L126.96,333.66L130.01,332.10L133.06,330.57L136.11,329.07L139.16,327.61L142.21,326.17L145.26,324.75L148.31,323.36L151.35,321.99L154.40,320.65L157.45,319.32L160.50,318.02L163.55,316.73L166.60,315.47L169.65,314.22L172.70,312.99L175.75,311.77L178.80,310.57L181.85,309.38L184.90,308.21L187.95,307.05L191.00,305.91L194.05,304.78L197.10,303.66L200.15,302.55L203.20,301.46L206.25,300.38L209.30,299.30L212.35,298.24L215.40,297.19L218.45,296.15L221.49,295.12L224.54,294.10L227.59,293.08L230.64,292.08L233.69,291.09L236.74,290.10L239.79,289.12L242.84,288.15L245.89,287.19L248.94,286.24L251.99,285.29L255.04,284.35L258.09,283.42L261.14,282.50L264.19,281.58L267.24,280.67L270.29,279.76L273.34,278.86L276.39,277.97L279.44,277.09L282.49,276.21L285.54,275.33L288.59,274.47L291.63,273.60L294.68,272.75L297.73,271.90L300.78,271.05L303.83,270.21L306.88,269.38L309.93,268.55L312.98,267.72L316.03,266.90L319.08,266.09L322.13,265.27L325.18,264.47L328.23,263.67L331.28,262.87L334.33,262.08L337.38,261.29L340.43,260.51L343.48,259.73L346.53,258.95L349.58,258.18L352.63,257.41L355.68,256.65L358.73,255.89L361.77,255.13L364.82,254.38L367.87,253.63L370.92,252.89L373.97,252.15L377.02,251.41L380.07,250.68L383.12,249.95L386.17,249.22L389.22,248.50L392.27,247.78L395.32,247.06L398.37,246.35L401.42,245.63L404.47,244.93L407.52,244.22L410.57,243.52L413.62,242.82L416.67,242.13L419.72,241.44L422.77,240.75L425.82,240.06L428.87,239.38L431.91,238.70L434.96,238.02L438.01,237.34L441.06,236.67L444.11,236.00L447.16,235.33L450.21,234.67L453.26,234.00L456.31,233.34L459.36,232.69L462.41,232.03L465.46,231.38L468.51,230.73L471.56,230.08L474.61,229.44L477.66,228.80L480.71,228.16L483.76,227.52L486.81,226.88L489.86,226.25L492.91,225.62L495.96,224.99L499.01,224.36L502.05,223.74L505.10,223.11L508.15,222.49L511.20,221.87L514.25,221.26L517.30,220.64L520.35,220.03L523.40,219.42L526.45,218.81L529.50,218.21L532.55,217.60L535.60,217.00" stroke="#85b058"/>
<path d="M57.30,405.65L57.30,405.63L57.30,405.61L57.30,405.57L57.30,405.53L57.30,405.48L57.30,405.43L57.30,405.37L57.30,405.31L57.30,405.24L57.30,405.17L57.30,405.10L57.31,405.03L57.31,404.95L57.31,404.86L57.31,404.78L57.31,404.69L57.31,404.60L57.32,404.50L57.32,404.41L57.32,404.31L57.33,404.20L57.33,404.10L57.34,403.99L57.34,403.88L57.35,403.77L57.35,403.66L57.36,403.54L57.37,403.42L57.37,403.30L57.38,403.18L57.39,403.06L57.40,402.93L57.41,402.80L57.42,402.67L57.43,402.54L57.44,402.40L57.45,402.27L57.47,402.13L57.48,401.99L57.49,401.85L57.51,401.71L57.52,401.56L57.54,401.41L57.56,401.26L57.58,401.11L57.60,400.96L57.62,400.81L57.64,400.65L57.66,400.50L57.68,400.34L57.70,400.18L57.73,400.02L57.75,399.85L57.78,399.69L57.80,399.52L57.83,399.35L57.86,399.18L57.89,399.01L57.92,398.84L57.96,398.67L57.99,398.49L58.02,398.31L58.06,398.14L58.10,397.96L58.13,397.78L58.17,397.59L58.21,397.41L58.25,397.22L58.30,397.04L58.34,396.85L58.39,396.66L58.43,396.47L58.48,396.28L58.53,396.08L58.58,395.89L58.63,395.69L58.69,395.50L58.74,395.30L58.80,395.10L58.85,394.90L58.91,394.70L58.97,394.49L59.04,394.29L59.10,394.08L59.16,393.87L59.23,393.67L59.30,393.46L59.37,393.25L59.44,393.03L59.51,392.82L59.59,392.61L59.66,392.39L59.74,392.17L59.82,391.96L59.90,391.74L59.98,391.52L60.07,391.29L60.16,391.07L60.24,390.85L60.33,390.62L60.43,390.40L60.52,390.17L60.62,389.94L60.71,389.71L60.81,389.48L60.91,389.25L61.02,389.02L61.12,388.78L61.23,388.55L61.34,388.31L61.45,388.08L61.56,387.84L61.68,387.60L61.80,387.36L61.92,387.12L62.04,386.88L62.16,386.63L62.29,386.39L62.41,386.14L62.54,385.90L62.68,385.65L62.81,385.40L62.95,385.15L63.09,384.90L63.23,384.65L63.37,384.40L63.52,384.14L63.66,383.89L63.81,383.63L63.97,383.38L64.12,383.12L64.28,382.86L64.44,382.60L64.60,382.34L64.77,382.08L64.93,381.82L65.10,381.55L65.28,381.29L65.45,381.02L65.63,380.76L65.81,380.49L65.99,380.22L66.17,379.95L66.36,379.68L66.55,379.41L66.74,379.14L66.94,378.87L67.14,378.59L67.34,378.32L67.54,378.04L67.75,377.77L67.96,377.49L68.17,377.21L68.38,376.93L68.60,376.65L68.82,376.37L69.04,376.09L69.27,375.81L69.50,375.52L69.73,375.24L69.96,374.95L70.20,374.67L70.44,374.38L70.69,374.09L70.93,373.80L71.18,373.51L71.43,373.22L71.69,372.93L71.95,372.64L72.21,372.34L72.47,372.05L72.74,371.75L73.01,371.46L73.29,371.16L73.56,370.86L73.84,370.56L74.13,370.26L74.41,369.96L74.70,369.66L75.00,369.36L75.29,369.06L75.59,368.75L75.90,368.45L76.20,368.15L76.51,367.84L76.83,367.53L77.14,367.22L77.46,366.92L77.79,366.61L78.11,366.30L78.45,365.98L78.78,365.67L79.12,365.36L79.46,365.05L79.80,364.73L80.15,364.42L80.50,364.10L80.86,363.78L81.22,363.47L84.26,360.86L87.31,358.39L90.36,356.05L93.41,353.81L96.46,351.67L99.51,349.61L102.56,347.62L105.61,345.69L108.66,343.83L111.71,342.02L114.76,340.26L117.81,338.55L120.86,336.88L123.91,335.25L126.96,333.66L130.01,332.10L133.06,330.57L136.11,329.07L139.16,327.61L142.21,326.17L145.26,324.75L148.31,323.36L151.35,321.99L154.40,320.65L157.45,319.32L160.50,318.02L163.55,316.73L166.60,315.47L169.65,314.22L172.70,312.99L175.75,311.77L178.80,310.57L181.85,309.38L184.90,308.21L187.95,307.05L191.00,305.91L194.05,304.78L197.10,303.66L200.15,302.55L203.20,301.46L206.25,300.38L209.30,299.30L212.35,298.24L215.40,297.19L218.45,296.15L221.49,295.12L224.54,294.10L227.59,293.08L230.64,292.08L233.69,291.09L236.74,290.10L239.79,289.12L242.84,288.15L245.89,287.19L248.94,286.24L251.99,285.29L255.04,284.35L258.09,283.42L261.14,282.50L264.19,281.58L267.24,280.67L270.29,279.76L273.34,278.86L276.39,277.97L279.44,277.09L282.49,276.21L285.54,275.33L288.59,274.47L291.63,273.60L294.68,272.75L297.73,271.90L300.78,271.05L303.83,270.21L306.88,269.38L309.93,268.55L312.98,267.72L316.03,266.90L319.08,266.09L322.13,265.27L325.18,264.47L328.23,263.67L331.28,262.87L334.33,262.08L337.38,261.29L340.43,260.51L343.48,259.73L346.53,258.95L349.58,258.18L352.63,257.41L355.68,256.65L358.73,255.89L361.77,255.13L364.82,254.38L367.87,253.63L370.92,252.89L373.97,252.15L377.02,251.41L380.07,250.68L383.12,249.95L386.17,249.22L389.22,248.50L392.27,247.78L395.32,247.06L398.37,246.35L401.42,245.63L404.47,244.93L407.52,244.22L410.57,243.52L413.62,242.82L416.67,242.13L419.72,241.44L422.77,240.75L425.82,240.06L428.87,239.38L431.91,238.70L434.96,238.02L438.01,237.34L441.06,236.67L444.11,236.00L447.16,235.33L450.21,234.67L453.26,234.00L456.31,233.34L459.36,232.69L462.41,232.03L465.46,231.38L468.51,230.73L471.56,230.08L474.61,229.44L477.66,228.80L480.71,228.16L483.76,227.52L486.81,226.88L489.86,226.25L492.91,225.62L495.96,224.99L499.01,224.36L502.05,223.74L505.10,223.11L508.15,222.49L511.20,221.87L514.25,221.26L517.30,220.64L520.35,220.03L523.40,219.42L526.45,218.81L529.50,218.21L532.55,217.60L535.60,217.00" stroke="#52703a" stroke-opacity="0.45" stroke-dasharray="2 2.4"/>
<path d="M57.30,405.65L57.30,405.65L57.30,405.64L57.30,405.63L57.30,405.62L57.30,405.60L57.30,405.58L57.30,405.56L57.30,405.54L57.30,405.51L57.30,405.49L57.30,405.45L57.31,405.42L57.31,405.39L57.31,405.35L57.31,405.31L57.31,405.27L57.31,405.22L57.32,405.17L57.32,405.13L57.32,405.08L57.33,405.02L57.33,404.97L57.34,404.91L57.34,404.85L57.35,404.79L57.35,404.73L57.36,404.66L57.37,404.60L57.37,404.53L57.38,404.46L57.39,404.39L57.40,404.31L57.41,404.24L57.42,404.16L57.43,404.08L57.44,404.00L57.45,403.91L57.47,403.83L57.48,403.74L57.49,403.65L57.51,403.56L57.52,403.47L57.54,403.37L57.56,403.28L57.58,403.18L57.60,403.08L57.62,402.98L57.64,402.87L57.66,402.77L57.68,402.66L57.70,402.55L57.73,402.44L57.75,402.33L57.78,402.22L57.80,402.10L57.83,401.99L57.86,401.87L57.89,401.75L57.92,401.62L57.96,401.50L57.99,401.38L58.02,401.25L58.06,401.12L58.10,400.99L58.13,400.86L58.17,400.72L58.21,400.59L58.25,400.45L58.30,400.31L58.34,400.17L58.39,400.03L58.43,399.89L58.48,399.74L58.53,399.60L58.58,399.45L58.63,399.30L58.69,399.15L58.74,399.00L58.80,398.84L58.85,398.69L58.91,398.53L58.97,398.37L59.04,398.21L59.10,398.05L59.16,397.88L59.23,397.72L59.30,397.55L59.37,397.38L59.44,397.21L59.51,397.04L59.59,396.87L59.66,396.69L59.74,396.52L59.82,396.34L59.90,396.16L59.98,395.98L60.07,395.80L60.16,395.62L60.24,395.43L60.33,395.24L60.43,395.06L60.52,394.87L60.62,394.67L60.71,394.48L60.81,394.29L60.91,394.09L61.02,393.90L61.12,393.70L61.23,393.50L61.34,393.30L61.45,393.09L61.56,392.89L61.68,392.68L61.80,392.48L61.92,392.27L62.04,392.06L62.16,391.84L62.29,391.63L62.41,391.42L62.54,391.20L62.68,390.98L62.81,390.76L62.95,390.54L63.09,390.32L63.23,390.10L63.37,389.87L63.52,389.65L63.66,389.42L63.81,389.19L63.97,388.96L64.12,388.73L64.28,388.50L64.44,388.26L64.60,388.03L64.77,387.79L64.93,387.55L65.10,387.31L65.28,387.07L65.45,386.82L65.63,386.58L65.81,386.33L65.99,386.09L66.17,385.84L66.36,385.59L66.55,385.34L66.74,385.08L66.94,384.83L67.14,384.57L67.34,384.32L67.54,384.06L67.75,383.80L67.96,383.54L68.17,383.28L68.38,383.01L68.60,382.75L68.82,382.48L69.04,382.21L69.27,381.94L69.50,381.67L69.73,381.40L69.96,381.13L70.20,380.85L70.44,380.57L70.69,380.30L70.93,380.02L71.18,379.74L71.43,379.46L71.69,379.17L71.95,378.89L72.21,378.60L72.47,378.32L72.74,378.03L73.01,377.74L73.29,377.45L73.56,377.15L73.84,376.86L74.13,376.57L74.41,376.27L74.70,375.97L75.00,375.67L75.29,375.37L75.59,375.07L75.90,374.77L76.20,374.46L76.51,374.16L76.83,373.85L77.14,373.54L77.46,373.23L77.79,372.92L78.11,372.61L78.45,372.29L78.78,371.98L79.12,371.66L79.46,371.35L79.80,371.03L80.15,370.71L80.50,370.38L80.86,370.06L81.22,369.74L84.26,367.06L87.31,364.49L90.36,362.03L93.41,359.66L96.46,357.37L99.51,355.15L102.56,352.99L105.61,350.89L108.66,348.84L111.71,346.84L114.76,344.88L117.81,342.97L120.86,341.09L123.91,339.25L126.96,337.44L130.01,335.67L133.06,333.92L136.11,332.20L139.16,330.51L142.21,328.84L145.26,327.20L148.31,325.58L151.35,323.98L154.40,322.40L157.45,320.84L160.50,319.30L163.55,317.78L166.60,316.27L169.65,314.79L172.70,313.31L175.75,311.86L178.80,310.42L181.85,308.99L184.90,307.58L187.95,306.18L191.00,304.79L194.05,303.42L197.10,302.05L200.15,300.70L203.20,299.37L206.25,298.04L209.30,296.72L212.35,295.42L215.40,294.12L218.45,292.83L221.49,291.56L224.54,290.29L227.59,289.03L230.64,287.78L233.69,286.54L236.74,285.31L239.79,284.09L242.84,282.88L245.89,281.67L248.94,280.47L251.99,279.28L255.04,278.09L258.09,276.92L261.14,275.75L264.19,274.59L267.24,273.43L270.29,272.28L273.34,271.14L276.39,270.00L279.44,268.87L282.49,267.75L285.54,266.63L288.59,265.52L291.63,264.41L294.68,263.31L297.73,262.22L300.78,261.13L303.83,260.05L306.88,258.97L309.93,257.90L312.98,256.83L316.03,255.77L319.08,254.71L322.13,253.66L325.18,252.61L328.23,251.57L331.28,250.53L334.33,249.49L337.38,248.47L340.43,247.44L343.48,246.42L346.53,245.40L349.58,244.39L352.63,243.39L355.68,242.38L358.73,241.38L361.77,240.39L364.82,239.40L367.87,238.41L370.92,237.43L373.97,236.45L377.02,235.47L380.07,234.50L383.12,233.53L386.17,232.57L389.22,231.60L392.27,230.65L395.32,229.69L398.37,228.74L401.42,227.79L404.47,226.85L407.52,225.91L410.57,224.97L413.62,224.04L416.67,223.11L419.72,222.18L422.77,221.25L425.82,220.33L428.87,219.41L431.91,218.50L434.96,217.59L438.01,216.68L441.06,215.77L444.11,214.87L447.16,213.96L450.21,213.07L453.26,212.17L456.31,211.28L459.36,210.39L462.41,209.50L465.46,208.62L468.51,207.73L471.56,206.85L474.61,205.98L477.66,205.10L480.71,204.23L483.76,203.36L486.81,202.50L489.86,201.63L492.91,200.77L495.96,199.91L499.01,199.05L502.05,198.20L505.10,197.35L508.15,196.50L511.20,195.65L514.25,194.80L517.30,193.96L520.35,193.12L523.40,192.28L526.45,191.44L529.50,190.61L532.55,189.78L535.60,188.95" stroke="#55c2dc"/>
<path d="M57.30,405.65L57.30,405.65L57.30,405.65L57.30,405.65L57.30,405.64L57.30,405.64L57.30,405.63L57.30,405.62L57.30,405.61L57.30,405.60L57.30,405.59L57.30,405.58L57.31,405.57L57.31,405.55L57.31,405.53L57.31,405.52L57.31,405.50L57.31,405.48L57.32,405.45L57.32,405.43L57.32,405.40L57.33,405.38L57.33,405.35L57.34,405.32L57.34,405.29L57.35,405.26L57.35,405.22L57.36,405.19L57.37,405.15L57.37,405.11L57.38,405.07L57.39,405.03L57.40,404.99L57.41,404.95L57.42,404.90L57.43,404.86L57.44,404.81L57.45,404.76L57.47,404.71L57.48,404.65L57.49,404.60L57.51,404.54L57.52,404.48L57.54,404.43L57.56,404.36L57.58,404.30L57.60,404.24L57.62,404.17L57.64,404.11L57.66,404.04L57.68,403.97L57.70,403.90L57.73,403.82L57.75,403.75L57.78,403.67L57.80,403.60L57.83,403.52L57.86,403.44L57.89,403.35L57.92,403.27L57.96,403.18L57.99,403.10L58.02,403.01L58.06,402.92L58.10,402.83L58.13,402.73L58.17,402.64L58.21,402.54L58.25,402.44L58.30,402.34L58.34,402.24L58.39,402.14L58.43,402.03L58.48,401.93L58.53,401.82L58.58,401.71L58.63,401.60L58.69,401.49L58.74,401.37L58.80,401.26L58.85,401.14L58.91,401.02L58.97,400.90L59.04,400.78L59.10,400.65L59.16,400.53L59.23,400.40L59.30,400.27L59.37,400.14L59.44,400.01L59.51,399.87L59.59,399.74L59.66,399.60L59.74,399.46L59.82,399.32L59.90,399.18L59.98,399.04L60.07,398.89L60.16,398.74L60.24,398.59L60.33,398.44L60.43,398.29L60.52,398.14L60.62,397.98L60.71,397.82L60.81,397.67L60.91,397.50L61.02,397.34L61.12,397.18L61.23,397.01L61.34,396.85L61.45,396.68L61.56,396.51L61.68,396.33L61.80,396.16L61.92,395.98L62.04,395.81L62.16,395.63L62.29,395.45L62.41,395.27L62.54,395.08L62.68,394.90L62.81,394.71L62.95,394.52L63.09,394.33L63.23,394.13L63.37,393.94L63.52,393.74L63.66,393.55L63.81,393.35L63.97,393.15L64.12,392.94L64.28,392.74L64.44,392.53L64.60,392.32L64.77,392.12L64.93,391.90L65.10,391.69L65.28,391.48L65.45,391.26L65.63,391.04L65.81,390.82L65.99,390.60L66.17,390.38L66.36,390.15L66.55,389.92L66.74,389.69L66.94,389.46L67.14,389.23L67.34,389.00L67.54,388.76L67.75,388.53L67.96,388.29L68.17,388.05L68.38,387.80L68.60,387.56L68.82,387.31L69.04,387.07L69.27,386.82L69.50,386.57L69.73,386.31L69.96,386.06L70.20,385.80L70.44,385.54L70.69,385.28L70.93,385.02L71.18,384.76L71.43,384.49L71.69,384.23L71.95,383.96L72.21,383.69L72.47,383.41L72.74,383.14L73.01,382.86L73.29,382.59L73.56,382.31L73.84,382.03L74.13,381.74L74.41,381.46L74.70,381.17L75.00,380.89L75.29,380.60L75.59,380.30L75.90,380.01L76.20,379.72L76.51,379.42L76.83,379.12L77.14,378.82L77.46,378.52L77.79,378.21L78.11,377.91L78.45,377.60L78.78,377.29L79.12,376.98L79.46,376.67L79.80,376.35L80.15,376.04L80.50,375.72L80.86,375.40L81.22,375.08L84.26,372.40L87.31,369.81L90.36,367.29L93.41,364.85L96.46,362.47L99.51,360.14L102.56,357.86L105.61,355.63L108.66,353.44L111.71,351.29L114.76,349.18L117.81,347.10L120.86,345.05L123.91,343.02L126.96,341.03L130.01,339.06L133.06,337.12L136.11,335.20L139.16,333.30L142.21,331.43L145.26,329.57L148.31,327.73L151.35,325.92L154.40,324.11L157.45,322.33L160.50,320.56L163.55,318.81L166.60,317.07L169.65,315.35L172.70,313.64L175.75,311.95L178.80,310.26L181.85,308.59L184.90,306.94L187.95,305.29L191.00,303.66L194.05,302.03L197.10,300.42L200.15,298.82L203.20,297.23L206.25,295.65L209.30,294.08L212.35,292.51L215.40,290.96L218.45,289.42L221.49,287.88L224.54,286.35L227.59,284.84L230.64,283.33L233.69,281.82L236.74,280.33L239.79,278.84L242.84,277.36L245.89,275.89L248.94,274.42L251.99,272.97L255.04,271.51L258.09,270.07L261.14,268.63L264.19,267.20L267.24,265.77L270.29,264.35L273.34,262.94L276.39,261.53L279.44,260.13L282.49,258.74L285.54,257.35L288.59,255.96L291.63,254.58L294.68,253.21L297.73,251.84L300.78,250.48L303.83,249.12L306.88,247.77L309.93,246.42L312.98,245.08L316.03,243.74L319.08,242.41L322.13,241.08L325.18,239.75L328.23,238.43L331.28,237.12L334.33,235.81L337.38,234.50L340.43,233.20L343.48,231.90L346.53,230.61L349.58,229.32L352.63,228.03L355.68,226.75L358.73,225.47L361.77,224.20L364.82,222.93L367.87,221.66L370.92,220.40L373.97,219.14L377.02,217.88L380.07,216.63L383.12,215.38L386.17,214.14L389.22,212.90L392.27,211.66L395.32,210.42L398.37,209.19L401.42,207.96L404.47,206.74L407.52,205.52L410.57,204.30L413.62,203.08L416.67,201.87L419.72,200.66L422.77,199.46L425.82,198.26L428.87,197.06L431.91,195.86L434.96,194.66L438.01,193.47L441.06,192.29L444.11,191.10L447.16,189.92L450.21,188.74L453.26,187.56L456.31,186.39L459.36,185.21L462.41,184.04L465.46,182.88L468.51,181.71L471.56,180.55L474.61,179.39L477.66,178.24L480.71,177.08L483.76,175.93L486.81,174.79L489.86,173.64L492.91,172.50L495.96,171.35L499.01,170.21L502.05,169.08L505.10,167.94L508.15,166.81L511.20,165.68L514.25,164.55L517.30,163.43L520.35,162.31L523.40,161.19L526.45,160.07L529.50,158.95L532.55,157.84L535.60,156.72" stroke="#a83a50"/>
</g>
<g font-size="14.67">
<text x="57.30" y="426.4" text-anchor="middle">0</text>
<text x="51.5" y="411.55" text-anchor="end">0</text>
<text x="117.09" y="426.4" text-anchor="middle">0.5</text>
<text x="51.5" y="364.39" text-anchor="end">0.5</text>
<text x="176.88" y="426.4" text-anchor="middle">1</text>
<text x="51.5" y="317.22" text-anchor="end">1</text>
<text x="236.66" y="426.4" text-anchor="middle">1.5</text>
<text x="51.5" y="270.06" text-anchor="end">1.5</text>
<text x="296.45" y="426.4" text-anchor="middle">2</text>
<text x="51.5" y="222.90" text-anchor="end">2</text>
<text x="356.24" y="426.4" text-anchor="middle">2.5</text>
<text x="51.5" y="175.74" text-anchor="end">2.5</text>
<text x="416.03" y="426.4" text-anchor="middle">3</text>
<text x="51.5" y="128.58" text-anchor="end">3</text>
<text x="475.81" y="426.4" text-anchor="middle">3.5</text>
<text x="51.5" y="81.41" text-anchor="end">3.5</text>
<text x="535.60" y="426.4" text-anchor="middle">4</text>
<text x="51.5" y="34.25" text-anchor="end">4</text>
</g>
<text x="296.45" y="448" font-size="16.13" text-anchor="middle">Frequency</text>
<text transform="translate(23,217.00) rotate(-90)" font-size="16.13" text-anchor="middle">Amplitude</text>
<text x="296.45" y="24" font-size="16.13" text-anchor="middle" fill="#000" style="fill:#000;stroke:#000">Fractional Differential Magnitude Frequency Response</text>
<rect x="424.2" y="42.7" width="96.6" height="112" fill="#fff" stroke="#262626" stroke-width="0.75"/>
<path d="M428.5,53.40H472.8" stroke="#222222" stroke-width="1.0" fill="none"/>
<text x="476" y="58.50" font-size="13.35" style="fill:#000;stroke:#000">v = 0</text>
<path d="M428.5,71.60H472.8" stroke="#55a5b4" stroke-width="1.25" fill="none"/>
<text x="476" y="76.70" font-size="13.35" style="fill:#000;stroke:#000">v = 0.2</text>
<path d="M428.5,89.70H472.8" stroke="#d3ab90" stroke-width="1.25" fill="none"/>
<text x="476" y="94.80" font-size="13.35" style="fill:#000;stroke:#000">v = 0.4</text>
<path d="M428.5,107.80H472.8" stroke="#dfca66" stroke-width="1.25" fill="none"/>
<text x="476" y="112.90" font-size="13.35" style="fill:#000;stroke:#000">v = 0.8</text>
<path d="M428.5,125.80H472.8" stroke="#a57a9f" stroke-width="1.25" fill="none"/>
<text x="476" y="130.90" font-size="13.35" style="fill:#000;stroke:#000">v = 1.2</text>
<path d="M428.5,144.30H472.8" stroke="#98bc6e" stroke-width="1.25" fill="none"/>
<text x="476" y="149.40" font-size="13.35" style="fill:#000;stroke:#000">v = 1.4</text>
</svg></body></html>
